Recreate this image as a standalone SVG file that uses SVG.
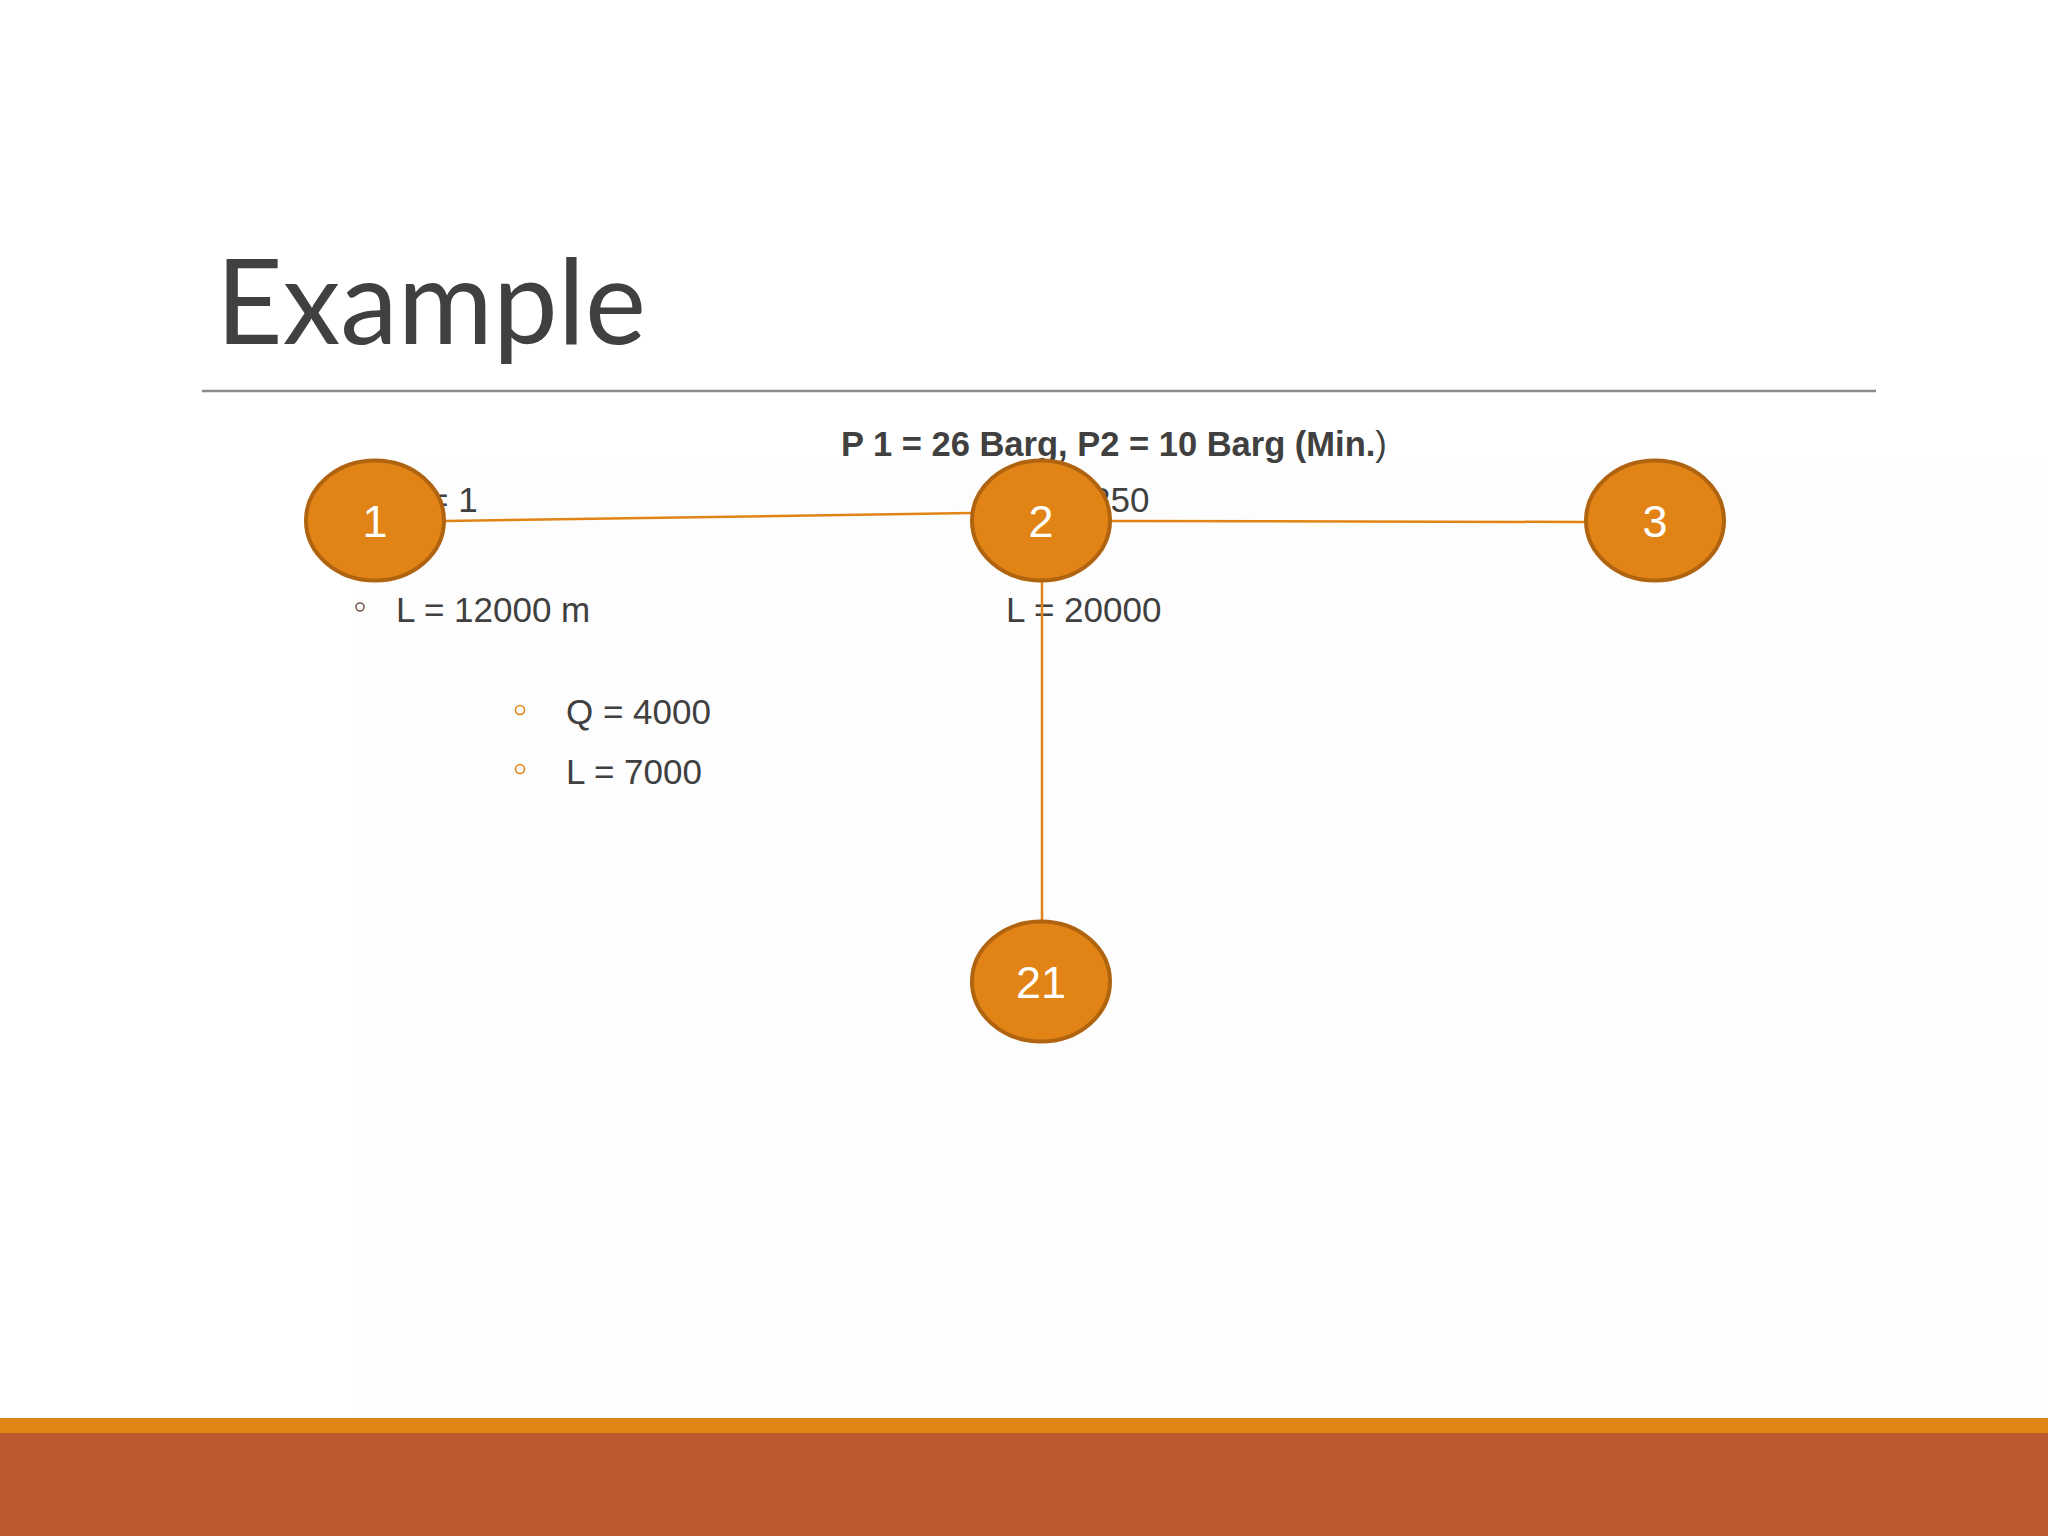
<svg xmlns="http://www.w3.org/2000/svg" width="2048" height="1536" viewBox="0 0 2048 1536">
<defs>
<style>
.title{font-family:Lato,"Liberation Sans",sans-serif;font-weight:normal;font-size:118px;fill:#404040}
.body{font-family:"Liberation Sans",Arial,sans-serif;font-size:35px;fill:#404040}
.bold{font-family:"Liberation Sans",Arial,sans-serif;font-size:34.5px;font-weight:bold;fill:#404040}
.node ellipse{fill:#E28415;stroke:#B0640F;stroke-width:4}
.node text{font-family:"Liberation Sans",Arial,sans-serif;font-size:45px;fill:#ffffff;text-anchor:middle}
.conn line{stroke:#E28415;stroke-width:2.5}
.bul{fill:none;stroke-width:1.6}
</style>
</defs>
<rect width="2048" height="1536" fill="#ffffff"/>
<rect x="352" y="462" width="1696" height="955" fill="#FDFDFD"/>
<text class="title" x="216" y="344" textLength="430" lengthAdjust="spacingAndGlyphs">Example</text>
<line x1="202" y1="391" x2="1876" y2="391" stroke="#8C8C8C" stroke-width="2.5"/>
<g id="texts">
<text class="bold" x="841" y="456">P 1 = 26 Barg, P2 = 10 Barg (Min.<tspan font-weight="normal">)</tspan></text>
<text class="body" x="428" y="512">= 1</text>
<text class="body" x="1091" y="512">250</text>
<circle class="bul" cx="360" cy="607" r="4" stroke="#7A5A50"/>
<text class="body" x="396" y="622">L = 12000 m</text>
<text class="body" x="1006" y="622">L = 20000</text>
<circle class="bul" cx="520" cy="710" r="4.5" stroke="#E28415"/>
<text class="body" x="566" y="724">Q = 4000</text>
<circle class="bul" cx="520" cy="769" r="4.5" stroke="#E28415"/>
<text class="body" x="566" y="784">L = 7000</text>
</g>
<g id="connectors" class="conn">
<line x1="445" y1="521" x2="972" y2="513"/>
<line x1="1111" y1="521" x2="1585" y2="522"/>
<line x1="1042" y1="582" x2="1042" y2="920"/>
</g>
<g id="node1" class="node"><ellipse cx="375" cy="520.5" rx="69" ry="60"/><text x="375" y="537">1</text></g>
<g id="node2" class="node"><ellipse cx="1041" cy="520.5" rx="69" ry="60"/><text x="1041" y="537">2</text></g>
<g id="node3" class="node"><ellipse cx="1655" cy="520.5" rx="69" ry="60"/><text x="1655" y="537">3</text></g>
<g id="node21" class="node"><ellipse cx="1041" cy="981.5" rx="69" ry="60"/><text x="1041" y="998">21</text></g>
<rect x="0" y="1418" width="2048" height="15" fill="#E08414"/>
<rect x="0" y="1433" width="2048" height="103" fill="#BE582D"/>
</svg>
